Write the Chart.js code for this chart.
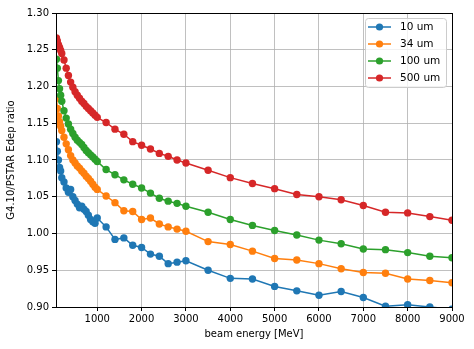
<!DOCTYPE html>
<html>
<head>
<meta charset="utf-8">
<script src="https://cdn.jsdelivr.net/npm/chart.js@4"></script>
<style>
  html, body { margin: 0; padding: 0; background: #fff; }
  #wrap { width: 474px; height: 349px; }
</style>
</head>
<body>
<div id="wrap"><canvas id="chart" width="474" height="349"></canvas></div>
<script>
// beam energies [MeV]
const energies = [80, 100, 125, 150, 175, 200, 250, 300, 350, 400, 450, 500, 550, 600, 650, 700, 750, 800, 850, 900, 950, 1000,
  1200, 1400, 1600, 1800, 2000, 2200, 2400, 2600, 2800, 3000,
  3500, 4000, 4500, 5000, 5500, 6000, 6500, 7000, 7500, 8000, 8500, 9000];

const labels = ["10 um", "34 um", "100 um", "500 um"];
const colors = ["#1f77b4", "#ff7f0e", "#2ca02c", "#d62728"];

const ratio10 = [1.125, 1.112, 1.100, 1.090, 1.085, 1.076, 1.070, 1.062, 1.056, 1.060, 1.050, 1.045, 1.040, 1.035, 1.037, 1.033, 1.030, 1.025, 1.019, 1.016, 1.014, 1.021,
  1.009, 0.992, 0.994, 0.984, 0.981, 0.972, 0.969, 0.959, 0.961, 0.963,
  0.950, 0.939, 0.938, 0.928, 0.922, 0.916, 0.921, 0.913, 0.901, 0.903, 0.900, 0.897];

const ratio34 = [1.184, 1.170, 1.160, 1.152, 1.146, 1.140, 1.131, 1.122, 1.114, 1.106, 1.100, 1.096, 1.092, 1.089, 1.085, 1.082, 1.078, 1.075, 1.071, 1.067, 1.063, 1.060,
  1.051, 1.042, 1.031, 1.030, 1.019, 1.021, 1.013, 1.009, 1.006, 1.003,
  0.989, 0.985, 0.976, 0.966, 0.964, 0.959, 0.952, 0.947, 0.946, 0.938, 0.936, 0.933];

const ratio100 = [1.237, 1.225, 1.208, 1.197, 1.188, 1.180, 1.167, 1.157, 1.149, 1.142, 1.136, 1.131, 1.127, 1.124, 1.121, 1.117, 1.113, 1.110, 1.107, 1.104, 1.101, 1.098,
  1.087, 1.080, 1.073, 1.067, 1.062, 1.055, 1.048, 1.044, 1.041, 1.037,
  1.029, 1.019, 1.011, 1.004, 0.998, 0.991, 0.986, 0.979, 0.978, 0.974, 0.969, 0.967];

const ratio500 = [1.266, 1.262, 1.257, 1.253, 1.249, 1.245, 1.236, 1.225, 1.215, 1.206, 1.199, 1.193, 1.188, 1.184, 1.180, 1.177, 1.173, 1.170, 1.167, 1.164, 1.161, 1.158,
  1.151, 1.142, 1.135, 1.125, 1.120, 1.115, 1.109, 1.105, 1.100, 1.096,
  1.086, 1.076, 1.068, 1.061, 1.053, 1.050, 1.046, 1.038, 1.029, 1.028, 1.023, 1.018];

const xTicks = [1000, 2000, 3000, 4000, 5000, 6000, 7000, 8000, 9000];

const series = [ratio10, ratio34, ratio100, ratio500];
const font = { family: "'DejaVu Sans', sans-serif", size: 10 };

// matplotlib-like frame and legend
const framePlugin = {
  id: "frame",
  afterDraw(chart) {
    const ctx = chart.ctx;
    const a = chart.chartArea;
    ctx.save();
    ctx.strokeStyle = "#000";
    ctx.lineWidth = 1;
    ctx.strokeRect(Math.round(a.left) + 0.5, Math.round(a.top) + 0.5,
      Math.round(a.right - a.left), Math.round(a.bottom - a.top));

    // legend box
    const bx = 365, by = 18, bw = 81, bh = 69;
    ctx.fillStyle = "rgba(255,255,255,0.8)";
    ctx.strokeStyle = "#cccccc";
    ctx.beginPath();
    ctx.roundRect(bx + 0.5, by + 0.5, bw, bh, 3);
    ctx.fill();
    ctx.stroke();
    ctx.font = "10.5px 'DejaVu Sans'";
    ctx.textBaseline = "middle";
    labels.forEach((lab, i) => {
      const y = 27 + i * 17;
      ctx.strokeStyle = colors[i];
      ctx.lineWidth = 1.5;
      ctx.beginPath();
      ctx.moveTo(368, y);
      ctx.lineTo(391, y);
      ctx.stroke();
      ctx.fillStyle = colors[i];
      ctx.beginPath();
      ctx.arc(379.5, y, 3.6, 0, Math.PI * 2);
      ctx.fill();
      ctx.fillStyle = "#000";
      ctx.fillText(lab, 400, y + 0.5);
    });
    ctx.restore();
  }
};

new Chart(document.getElementById("chart"), {
  type: "line",
  data: {
    datasets: series.map((vals, i) => ({
      label: labels[i],
      data: energies.map((e, j) => ({ x: e, y: vals[j] })),
      borderColor: colors[i],
      backgroundColor: colors[i],
      pointBackgroundColor: colors[i],
      pointBorderColor: colors[i],
      borderWidth: 1.5,
      pointRadius: 3.7,
      pointBorderWidth: 0,
      tension: 0,
      clip: 0,
      order: 3 - i
    }))
  },
  options: {
    responsive: false,
    animation: false,
    events: [],
    layout: { padding: { top: 13, right: 22, left: 5, bottom: 9 } },
    plugins: {
      legend: { display: false },
      tooltip: { enabled: false }
    },
    scales: {
      x: {
        type: "linear",
        min: 70,
        max: 9000,
        afterBuildTicks(scale) { scale.ticks = xTicks.map(v => ({ value: v })); },
        afterFit(scale) { scale.height = 33; },
        ticks: { color: "#000", font: font, maxRotation: 0, padding: 2, callback: v => String(v) },
        grid: { color: "#b0b0b0", lineWidth: 0.8, tickColor: "#000", tickLength: 4, tickWidth: 1 },
        border: { color: "#000", width: 1 },
        title: { display: true, text: "beam energy [MeV]", color: "#000", font: font, padding: { top: 3, bottom: 0 } }
      },
      y: {
        min: 0.9,
        max: 1.3,
        afterFit(scale) { scale.width = 51; },
        ticks: { stepSize: 0.05, color: "#000", font: font, padding: 3, callback: v => v.toFixed(2) },
        grid: { color: "#b0b0b0", lineWidth: 0.8, tickColor: "#000", tickLength: 4, tickWidth: 1 },
        border: { color: "#000", width: 1 },
        title: { display: true, text: "G4.10/PSTAR Edep ratio", color: "#000", font: font, padding: { top: 0, bottom: 2 } }
      }
    }
  },
  plugins: [framePlugin]
});
</script>
</body>
</html>
